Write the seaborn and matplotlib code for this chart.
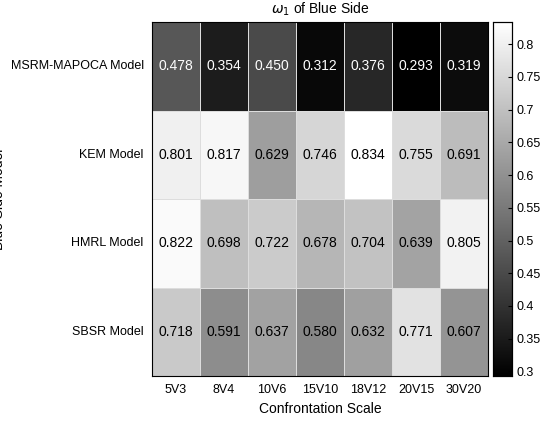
import matplotlib
matplotlib.use("Agg")
import matplotlib.pyplot as plt
import seaborn as sns
import numpy as np

models = ["MSRM-MAPOCA Model", "KEM Model", "HMRL Model", "SBSR Model"]
scales = ["5V3", "8V4", "10V6", "15V10", "18V12", "20V15", "30V20"]
msrm = [0.478, 0.354, 0.450, 0.312, 0.376, 0.293, 0.319]
kem = [0.801, 0.817, 0.629, 0.746, 0.834, 0.755, 0.691]
hmrl = [0.822, 0.698, 0.722, 0.678, 0.704, 0.639, 0.805]
sbsr = [0.718, 0.591, 0.637, 0.580, 0.632, 0.771, 0.607]
data = np.array([msrm, kem, hmrl, sbsr])

plt.rcParams['font.family'] = ['Liberation Sans', 'DejaVu Sans']
fig = plt.figure(figsize=(5.5, 4.21), dpi=100)
ax = fig.add_axes([152/550, 1-376/421, 336/550, 354/421])
cax = fig.add_axes([493/550, 1-376/421, 19/550, 354/421])
sns.heatmap(data, ax=ax, cbar_ax=cax, cmap="gray", vmin=data.min(), vmax=data.max(),
            annot=True, fmt=".3f", annot_kws={"size": 10},
            xticklabels=scales, yticklabels=models, linewidths=0.5, linecolor="#dddddd")
for t, v in zip(ax.texts, data.flatten()):
    t.set_color("white" if v < 0.5 else "black")
ax.tick_params(length=0, labelsize=9, pad=6)
ax.set_yticklabels(models, rotation=0)
ax.set_xlabel("Confrontation Scale", fontsize=10)
ax.set_ylabel("Blue Side Model", fontsize=10, labelpad=3)
ax.set_title(r"$\omega_1$ of Blue Side", fontsize=10)
for s in ax.spines.values():
    s.set_visible(True); s.set_linewidth(0.8)
cax.set_yticks(np.arange(0.3, 0.85, 0.05))
cax.set_yticklabels([f"{v:g}" for v in np.round(np.arange(0.3, 0.85, 0.05), 2)])
cax.tick_params(labelsize=9, direction="in", length=3)
for s in cax.spines.values():
    s.set_visible(True); s.set_linewidth(0.8)
fig.savefig("out.png", dpi=100)
